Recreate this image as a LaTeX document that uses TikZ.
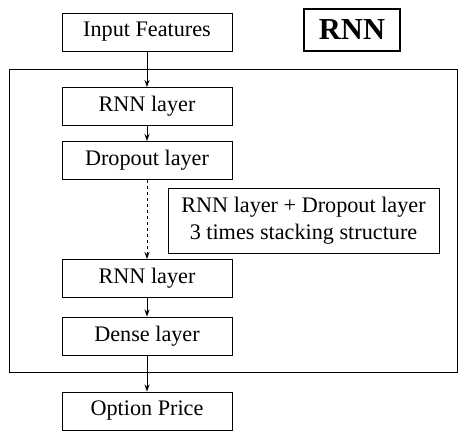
\documentclass[tikz,border=0pt]{standalone}
\usepackage{fontspec}
\setmainfont{Liberation Serif}
\usepackage{tikz}
\usetikzlibrary{arrows.meta}

\begin{document}
\begin{tikzpicture}[x=1pt,y=-1pt,
    layerbox/.style={draw,line width=0.9pt,minimum width=170pt,minimum height=38pt,inner sep=0pt,font=\fontsize{22.2}{26}\selectfont},
    flow/.style={-{Stealth[length=7pt,width=5pt]},line width=1pt}]
            \useasboundingbox (0,0) rectangle (474,442);
            \draw[line width=0.9pt] (9,69) rectangle (457,372);
            \node[layerbox] (input) at (147,32) {Input Features};
            \node[draw,line width=1.6pt,minimum width=96pt,minimum height=42pt,inner sep=0pt,font=\fontsize{30.5}{34}\selectfont\bfseries] (title) at (352,30) {RNN};
            \node[layerbox] (rnnA) at (147,106.5) {RNN layer};
            \node[layerbox] (drop) at (147,160.5) {Dropout layer};
            \node[layerbox,minimum width=271pt,minimum height=65pt,align=center,font=\fontsize{22.2}{27}\selectfont] (note) at (303.5,220.5) {RNN layer + Dropout layer\\3 times stacking structure};
            \node[layerbox] (rnnB) at (147,278.5) {RNN layer};
            \node[layerbox] (dense) at (147,336) {Dense layer};
            \node[layerbox] (price) at (147,411) {Option Price};
            \draw[flow] (input) -- (rnnA);
            \draw[flow] (rnnA) -- (drop);
            \draw[flow,dashed] (drop) -- (rnnB);
            \draw[flow] (rnnB) -- (dense);
            \draw[flow] (dense) -- (price);
        \end{tikzpicture}
\end{document}
